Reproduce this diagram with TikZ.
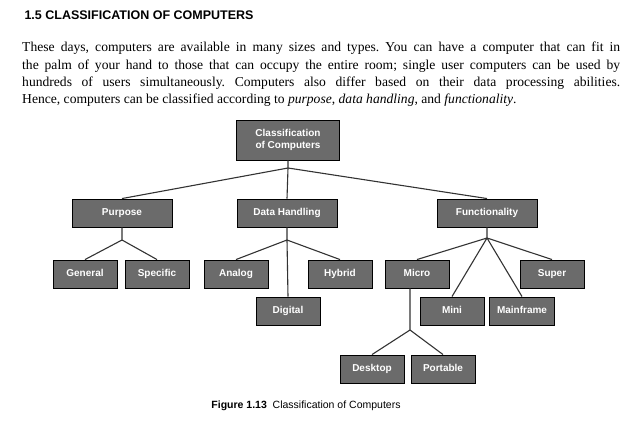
\documentclass[tikz,border=0pt]{standalone}
\usepackage{fontspec}
\setmainfont{Liberation Serif}
\setsansfont{Liberation Sans}
\begin{document}
\frenchspacing
\begin{tikzpicture}[x=1pt,y=-1pt,
  bx/.style={draw=black,line width=0.9pt,fill=black!58,text=white,font=\sffamily\bfseries\fontsize{10}{11.5}\selectfont,minimum height=28pt,inner sep=2pt,align=center,text height=7.5pt,text depth=2pt},
  ln/.style={line width=1.1pt,black!80}]
\useasboundingbox (0,0) rectangle (639,425);
\node[anchor=west,font=\sffamily\bfseries\fontsize{12.5}{14}\selectfont] (h) at (21,15) {1.5 CLASSIFICATION OF COMPUTERS};
\node[anchor=north west,inner sep=0,align=left,font=\fontsize{13.6}{17.3}\selectfont] (p) at (22,42) {%
\makebox[598pt][s]{These days, computers are available in many sizes and types. You can have a computer that can fit in}\\
\makebox[598pt][s]{the palm of your hand to those that can occupy the entire room; single user computers can be used by}\\
\makebox[598pt][s]{hundreds of users simultaneously. Computers also differ based on their data processing abilities.}\\
Hence, computers can be classified according to \textit{purpose}, \textit{data handling}, and \textit{functionality}.};
\node[bx,minimum width=103pt,minimum height=40pt,text height=,text depth=] (root) at (288,140) {Classification\\of Computers};
\node[bx,minimum width=100pt] (pur) at (122,213) {Purpose};
\node[bx,minimum width=100pt] (dh) at (287,213) {Data Handling};
\node[bx,minimum width=100pt] (fun) at (487,213) {Functionality};
\node[bx,minimum width=64pt] (gen) at (85,274) {General};
\node[bx,minimum width=64pt] (spe) at (157,274) {Specific};
\node[bx,minimum width=64pt] (ana) at (236,274) {Analog};
\node[bx,minimum width=64pt] (hyb) at (340,274) {Hybrid};
\node[bx,minimum width=64pt] (dig) at (288,311) {Digital};
\node[bx,minimum width=64pt] (mic) at (417,274) {Micro};
\node[bx,minimum width=64pt] (sup) at (552,274) {Super};
\node[bx,minimum width=64pt] (min) at (452,311) {Mini};
\node[bx,minimum width=65pt,inner sep=1pt] (mai) at (522,311) {Mainframe};
\node[bx,minimum width=64pt] (des) at (372,369) {Desktop};
\node[bx,minimum width=64pt] (por) at (443,369) {Portable};
\coordinate (j0) at (288,168);
\coordinate (j1) at (122,240);
\coordinate (j2) at (287,240);
\coordinate (j3) at (487,238);
\coordinate (j4) at (410,330);
\draw[ln] (root.south) -- (j0) (j0) -- (pur.north) (j0) -- (dh.north) (j0) -- (fun.north);
\draw[ln] (pur.south) -- (j1) (j1) -- (gen.north) (j1) -- (spe.north);
\draw[ln] (dh.south) -- (j2) (j2) -- (ana.north) (j2) -- (hyb.north) (j2) -- (dig.north);
\draw[ln] (fun.south) -- (j3) (j3) -- (mic.north) (j3) -- (sup.north) (j3) -- (min.north) (j3) -- (mai.north);
\draw[ln] (j4 |- mic.south) -- (j4) (j4) -- (des.north) (j4) -- (por.north);
\node[font=\sffamily\fontsize{10.5}{12}\selectfont] (cap) at (306,406) {\textbf{Figure 1.13}\ \ Classification of Computers};
\end{tikzpicture}
\end{document}
